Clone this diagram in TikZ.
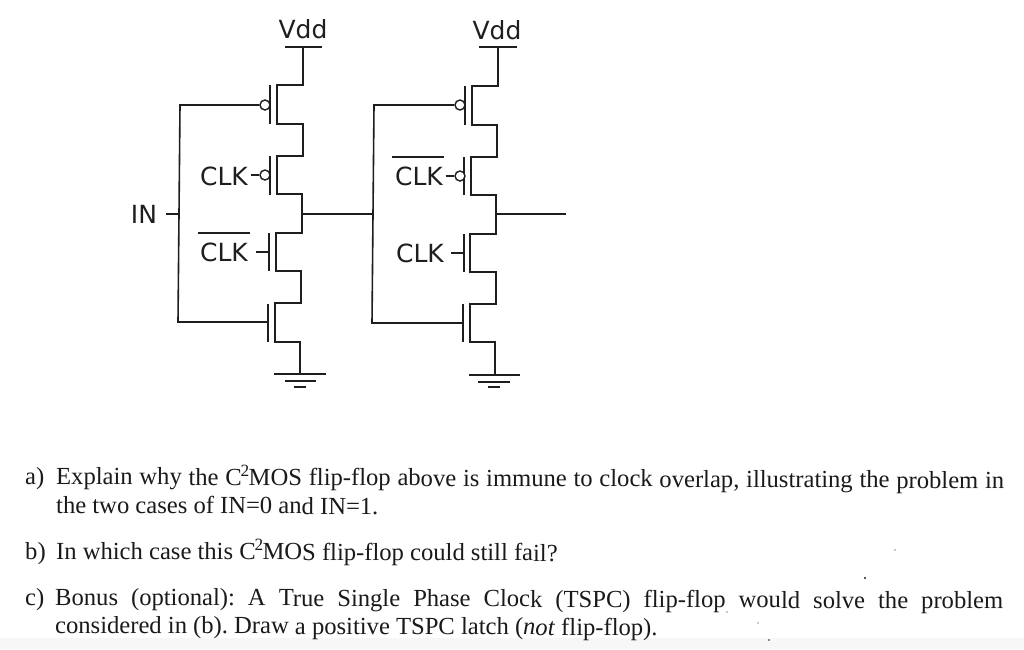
\documentclass[tikz,border=0pt]{standalone}
\usepackage{fontspec}
\setmainfont{Liberation Serif}
\newfontfamily\cktfont{DejaVu Sans}
\definecolor{ink}{HTML}{1E1E1E}
\definecolor{txt}{HTML}{1A1A1A}
\newcommand{\cmos}{C\kern-1.2pt\textsuperscript{2}\kern-1pt MOS}
\tikzset{
  wire/.style={draw=ink,line width=1.6pt,line cap=butt,line join=miter},
  gatebar/.style={draw=ink,line width=2pt},
  bubble/.style={circle,draw=ink,line width=1.4pt,fill=white,minimum size=10pt,inner sep=0pt},
  ckt/.style={font=\cktfont\fontsize{25}{25}\selectfont,text=ink,inner sep=0pt,anchor=center},
  para/.style={font=\fontsize{24.6}{28}\selectfont\frenchspacing,text=txt,inner sep=0pt,anchor=base west,rotate=-0.24},
  speck/.style={circle,fill=ink,inner sep=0pt,minimum size=2.2pt},
}
\begin{document}
\begin{tikzpicture}[x=1pt,y=-1pt]
\useasboundingbox (0,0) rectangle (1024,649);
\fill[white] (0,0) rectangle (1024,649);
\fill[black!3] (0,638) rectangle (1024,649);
% ---------- left stage
\node[ckt] (vddL) at (303,29) {Vdd};
\coordinate (vL) at (303,47);
\draw[wire] (285,47) -- (322,47);
\draw[wire] (vL) -- (303,85) -- (277,85) -- (277,124) -- (303,124) -- (303,156) -- (277,156) -- (277,194) -- (302,194) -- (302,233) -- (276,233) -- (276,271) -- (301,271) -- (301,303) -- (275,303) -- (275,342) -- (300,342) -- (300,374) coordinate (gL);
\draw[wire] (274,374) -- (326,374);
\draw[wire] (285,381) -- (316,381);
\draw[wire] (294,387) -- (306,387);
\draw[gatebar] (270,85) -- (270,124);
\draw[gatebar] (270,156) -- (270,195);
\draw[gatebar] (269,233) -- (269,271);
\draw[gatebar] (268,304) -- (268,342);
\node[bubble] (b1L) at (265,105) {};
\node[bubble] (b2L) at (265,175) {};
\node[ckt] (inL) at (144,214) {IN};
\node[ckt] (clk1L) at (224,176) {CLK};
\node[ckt] (clk2L) at (224,252) {CLK};
\coordinate (jIn) at (179,214);
\coordinate (s1L) at (251,175);
\coordinate (s2L) at (256,252);
\coordinate (g2L) at (269,252);
\coordinate (g4L) at (268,322);
\draw[wire] (b1L.west) -- (180,105) -- (178,322) -- (g4L);
\draw[wire] (166,214) -- (jIn);
\draw[wire] (s1L) -- (b2L.west);
\draw[wire] (s2L) -- (g2L);
\draw[wire] (198,233) -- (250,233);
% link between stages
\coordinate (outL) at (302,214);
\coordinate (inR) at (373,214);
\draw[wire] (outL) -- (inR);
% ---------- right stage
\node[ckt] (vddR) at (497,30) {Vdd};
\coordinate (vR) at (498,47);
\draw[wire] (479,47) -- (517,47);
\draw[wire] (vR) -- (498,86) -- (472,86) -- (472,125) -- (497,125) -- (497,157) -- (471,157) -- (471,195) -- (496,195) -- (496,234) -- (470,234) -- (470,272) -- (496,272) -- (496,304) -- (470,304) -- (470,342) -- (495,342) -- (495,375) coordinate (gR);
\draw[wire] (469,375) -- (520,375);
\draw[wire] (478,382) -- (510,382);
\draw[wire] (488,387) -- (500,387);
\draw[gatebar] (465,86) -- (465,125);
\draw[gatebar] (464,157) -- (464,195);
\draw[gatebar] (464,234) -- (464,272);
\draw[gatebar] (463,304) -- (463,342);
\node[bubble] (b1R) at (460,105) {};
\node[bubble] (b2R) at (460,176) {};
\node[ckt] (clk1R) at (419,176) {CLK};
\node[ckt] (clk2R) at (420,253) {CLK};
\coordinate (s1R) at (446,176);
\coordinate (s2R) at (451,253);
\coordinate (g2R) at (464,253);
\coordinate (g4R) at (463,323);
\coordinate (outR) at (566,214);
\draw[wire] (b1R.west) -- (374,105) -- (372,323) -- (g4R);
\draw[wire] (s1R) -- (b2R.west);
\draw[wire] (s2R) -- (g2R);
\draw[wire] (392,157) -- (444,157);
\draw[wire] (496,214) -- (outR);
% ---------- text
\node[para] (aL) at (25,484.5) {a)};
\node[para] (a1) at (56,484.5) {\makebox[948pt][s]{Explain why the \cmos{} flip-flop above is immune to clock overlap, illustrating the problem in}};
\node[para] (a2) at (56,513) {the two cases of IN=0 and IN=1.};
\node[para] (bL) at (25,559) {b)};
\node[para] (b1) at (56,559) {In which case this \cmos{} flip-flop could still fail?};
\node[para] (cL) at (25,605) {c)};
\node[para] (c1) at (55,605) {\makebox[948pt][s]{Bonus (optional): A True Single Phase Clock (TSPC) flip-flop would solve the problem}};
\node[para] (c2) at (55,633) {considered in (b). Draw a positive TSPC latch (\textit{not} flip-flop).};
\node[speck] (sp1) at (865,578) {};
\node[speck,minimum size=1.2pt] (sp2) at (895,550) {};
\node[speck,minimum size=1.4pt] (sp3) at (727,612) {};
\node[speck,minimum size=1.4pt] (sp4) at (758,623) {};
\node[speck,minimum size=1.8pt] (sp5) at (769,640) {};
\end{tikzpicture}
\end{document}
